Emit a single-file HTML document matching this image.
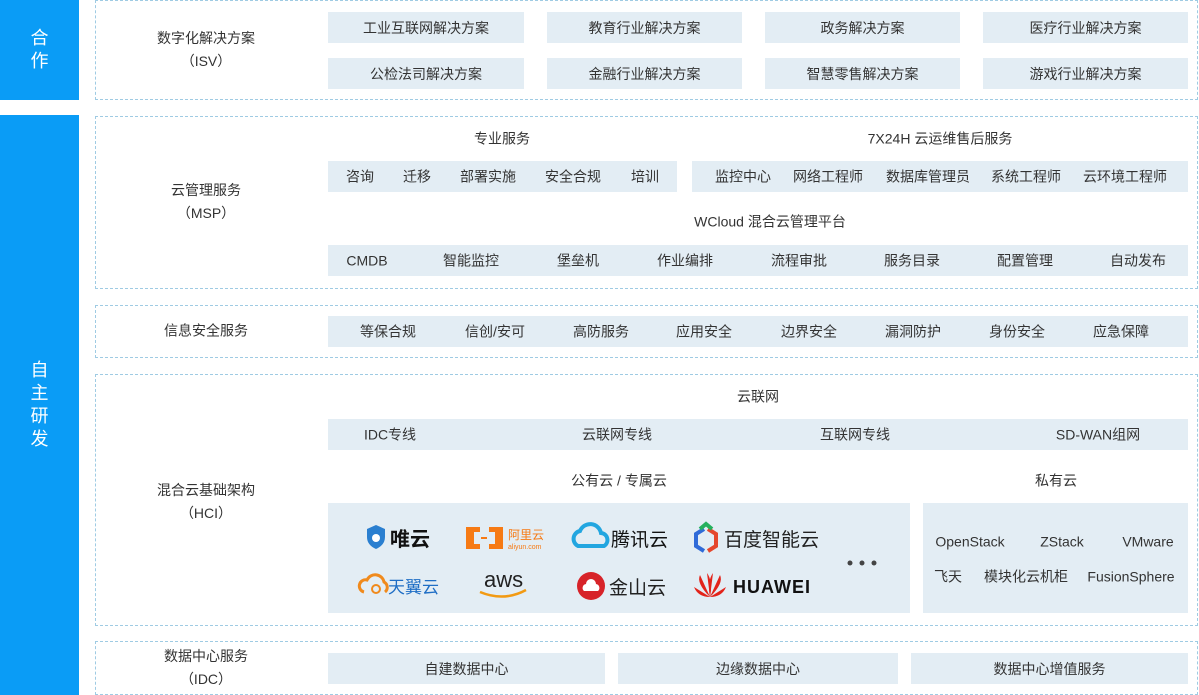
<!DOCTYPE html>
<html><head><meta charset="utf-8"><style>
*{margin:0;padding:0;box-sizing:border-box}
body{width:1199px;height:695px;position:relative;background:#fff;font-family:"Liberation Sans","Noto Sans CJK SC",sans-serif;font-size:14px;color:#333;overflow:hidden}
.a{position:absolute}
.side{position:absolute;left:0;width:79px;background:#0a9cf6;color:#fff;font-size:18px;display:flex;align-items:center;justify-content:center;text-align:center;line-height:23px}
.box{position:absolute;left:95px;width:1103px;border:1px dashed #9fcbe3}
.c{position:absolute;background:#e3edf4;display:flex;align-items:center;justify-content:center}
.band{position:absolute;background:#e3edf4}
.t{position:absolute;transform:translate(-50%,-50%);white-space:nowrap;text-align:center;line-height:23px}
</style></head><body>
<div class="side" style="top:0;height:100px">合<br>作</div>
<div class="side" style="top:115px;height:580px">自<br>主<br>研<br>发</div>

<div class="box" style="top:0;height:100px"></div>
<div class="box" style="top:116px;height:173px"></div>
<div class="box" style="top:305px;height:53px"></div>
<div class="box" style="top:374px;height:252px"></div>
<div class="box" style="top:641px;height:54px"></div>

<div class="t" style="left:206px;top:50px">数字化解决方案<br>（ISV）</div>
<div class="c" style="left:328px;top:12px;width:196px;height:31px">工业互联网解决方案</div>
<div class="c" style="left:547px;top:12px;width:195px;height:31px">教育行业解决方案</div>
<div class="c" style="left:765px;top:12px;width:195px;height:31px">政务解决方案</div>
<div class="c" style="left:983px;top:12px;width:205px;height:31px">医疗行业解决方案</div>
<div class="c" style="left:328px;top:58px;width:196px;height:31px">公检法司解决方案</div>
<div class="c" style="left:547px;top:58px;width:195px;height:31px">金融行业解决方案</div>
<div class="c" style="left:765px;top:58px;width:195px;height:31px">智慧零售解决方案</div>
<div class="c" style="left:983px;top:58px;width:205px;height:31px">游戏行业解决方案</div>

<div class="t" style="left:206px;top:202px">云管理服务<br>（MSP）</div>
<div class="t" style="left:502px;top:139px">专业服务</div>
<div class="t" style="left:940px;top:139px">7X24H 云运维售后服务</div>
<div class="band" style="left:328px;top:161px;width:349px;height:31px"></div>
<div class="band" style="left:692px;top:161px;width:496px;height:31px"></div>
<div class="t" style="left:360px;top:177px">咨询</div>
<div class="t" style="left:417px;top:177px">迁移</div>
<div class="t" style="left:488px;top:177px">部署实施</div>
<div class="t" style="left:573px;top:177px">安全合规</div>
<div class="t" style="left:645px;top:177px">培训</div>
<div class="t" style="left:743px;top:177px">监控中心</div>
<div class="t" style="left:828px;top:177px">网络工程师</div>
<div class="t" style="left:928px;top:177px">数据库管理员</div>
<div class="t" style="left:1026px;top:177px">系统工程师</div>
<div class="t" style="left:1125px;top:177px">云环境工程师</div>
<div class="t" style="left:770px;top:222px">WCloud 混合云管理平台</div>
<div class="band" style="left:328px;top:245px;width:860px;height:31px"></div>
<div class="t" style="left:367px;top:261px">CMDB</div>
<div class="t" style="left:471px;top:261px">智能监控</div>
<div class="t" style="left:578px;top:261px">堡垒机</div>
<div class="t" style="left:685px;top:261px">作业编排</div>
<div class="t" style="left:799px;top:261px">流程审批</div>
<div class="t" style="left:912px;top:261px">服务目录</div>
<div class="t" style="left:1025px;top:261px">配置管理</div>
<div class="t" style="left:1138px;top:261px">自动发布</div>

<div class="t" style="left:206px;top:331px">信息安全服务</div>
<div class="band" style="left:328px;top:316px;width:860px;height:31px"></div>
<div class="t" style="left:388px;top:332px">等保合规</div>
<div class="t" style="left:495px;top:332px">信创/安可</div>
<div class="t" style="left:601px;top:332px">高防服务</div>
<div class="t" style="left:704px;top:332px">应用安全</div>
<div class="t" style="left:809px;top:332px">边界安全</div>
<div class="t" style="left:913px;top:332px">漏洞防护</div>
<div class="t" style="left:1017px;top:332px">身份安全</div>
<div class="t" style="left:1121px;top:332px">应急保障</div>

<div class="t" style="left:206px;top:502px">混合云基础架构<br>（HCI）</div>
<div class="t" style="left:758px;top:397px">云联网</div>
<div class="band" style="left:328px;top:419px;width:860px;height:31px"></div>
<div class="t" style="left:390px;top:435px">IDC专线</div>
<div class="t" style="left:617px;top:435px">云联网专线</div>
<div class="t" style="left:855px;top:435px">互联网专线</div>
<div class="t" style="left:1098px;top:435px">SD-WAN组网</div>
<div class="t" style="left:619px;top:481px">公有云 / 专属云</div>
<div class="t" style="left:1056px;top:481px">私有云</div>
<div class="band" style="left:328px;top:503px;width:582px;height:110px"></div>
<div class="band" style="left:923px;top:503px;width:265px;height:110px"></div>
<div class="t" style="left:970px;top:542px">OpenStack</div>
<div class="t" style="left:1062px;top:542px">ZStack</div>
<div class="t" style="left:1148px;top:542px">VMware</div>
<div class="t" style="left:948px;top:577px">飞天</div>
<div class="t" style="left:1026px;top:577px">模块化云机柜</div>
<div class="t" style="left:1131px;top:577px">FusionSphere</div>

<svg class="a" style="left:328px;top:503px" width="582" height="110">
<path d="M39 26 l9 -4 l9 4 v8 q0 8 -9 12 q-9 -4 -9 -12z" fill="#2a7fd0"/>
<circle cx="48" cy="35" r="4" fill="#fff"/>
<text x="62" y="43" font-size="20" font-weight="bold" fill="#111" font-family="Noto Sans CJK SC">唯云</text>
<rect x="138" y="24" width="8" height="22" rx="2" fill="#f67a14"/><rect x="138" y="24" width="14" height="5" fill="#f67a14"/><rect x="138" y="41" width="14" height="5" fill="#f67a14"/>
<rect x="167" y="24" width="8" height="22" rx="2" fill="#f67a14"/><rect x="161" y="24" width="14" height="5" fill="#f67a14"/><rect x="161" y="41" width="14" height="5" fill="#f67a14"/>
<rect x="153" y="34" width="6" height="2" fill="#f67a14"/>
<text x="180" y="36" font-size="12" fill="#f67a14" font-family="Noto Sans CJK SC">阿里云</text>
<text x="180" y="46" font-size="7" fill="#f67a14">aliyun.com</text>
<path d="M250 43 a8 8 0 0 1 2 -15 a11 11 0 0 1 21 2 a7 7 0 0 1 3 13z" fill="none" stroke="#22a6e0" stroke-width="4"/>
<text x="283" y="43" font-size="19" fill="#111" font-family="Noto Sans CJK SC">腾讯云</text>
<path d="M376 26 l-8 5 v12 l8 5" fill="none" stroke="#2f6ad8" stroke-width="4"/><path d="M380 26 l8 5 v12 l-8 5" fill="none" stroke="#e5472d" stroke-width="4"/><path d="M372 26 l6 -5 l6 5" fill="none" stroke="#25b05d" stroke-width="4"/>
<text x="396" y="43" font-size="19" fill="#222" font-family="Noto Sans CJK SC">百度智能云</text>
<circle cx="522" cy="60" r="2.5" fill="#444"/><circle cx="534" cy="60" r="2.5" fill="#444"/><circle cx="546" cy="60" r="2.5" fill="#444"/>
<path d="M36 89 a6 6 0 0 1 3 -12 a9 9 0 0 1 17 2 a6 6 0 0 1 1 10" fill="none" stroke="#f08a1c" stroke-width="3"/><circle cx="48" cy="86" r="4" fill="none" stroke="#f08a1c" stroke-width="2"/>
<text x="60" y="90" font-size="17" fill="#1f6ec5" font-family="Noto Sans CJK SC">天翼云</text>
<text x="156" y="84" font-size="22" fill="#222" font-family="Liberation Sans">aws</text>
<path d="M152 89 q24 10 46 -2" fill="none" stroke="#f29a12" stroke-width="2.5"/>
<circle cx="263" cy="83" r="14" fill="#d72329"/><path d="M256 88 a4 4 0 0 1 2 -7 a5 5 0 0 1 10 0 a4 4 0 0 1 2 7z" fill="#fff"/>
<text x="281" y="91" font-size="19" fill="#222" font-family="Noto Sans CJK SC">金山云</text>
<g fill="#e2231a"><path d="M382 94 l-10 -22 q-4 8 10 22z"/><path d="M382 94 l-3 -24 q6 8 3 24z"/><path d="M382 94 l3 -24 q-6 8 -3 24z"/><path d="M382 94 l10 -22 q4 8 -10 22z"/><path d="M382 94 l-16 -10 q4 10 16 10z"/><path d="M382 94 l16 -10 q-4 10 -16 10z"/></g>
<text x="405" y="90" font-size="18" font-weight="bold" fill="#111" font-family="Liberation Sans" letter-spacing="1">HUAWEI</text>
</svg>

<div class="t" style="left:206px;top:668px">数据中心服务<br>（IDC）</div>
<div class="c" style="left:328px;top:653px;width:277px;height:31px">自建数据中心</div>
<div class="c" style="left:618px;top:653px;width:280px;height:31px">边缘数据中心</div>
<div class="c" style="left:911px;top:653px;width:277px;height:31px">数据中心增值服务</div>
</body></html>
